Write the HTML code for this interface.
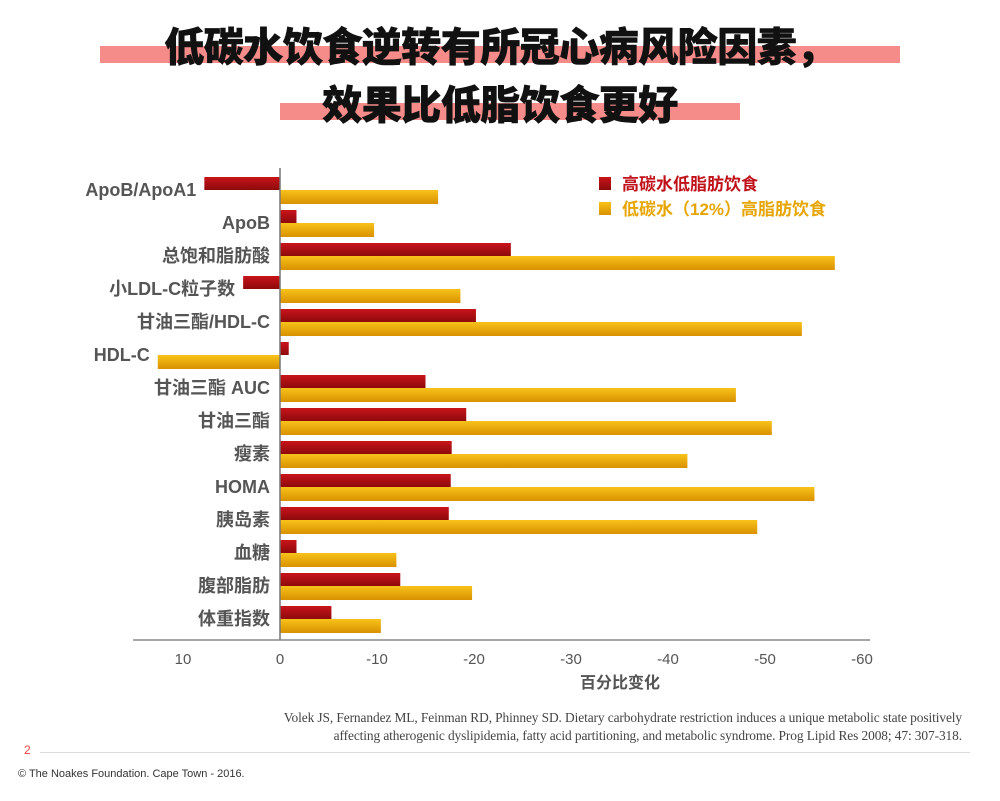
<!DOCTYPE html>
<html><head><meta charset="utf-8"><style>
body{margin:0;width:1000px;height:801px;background:#fff;overflow:hidden;position:relative;font-family:"Liberation Sans","Noto Sans CJK SC",sans-serif}
.hl{position:absolute;background:#f58c8a}
.t{position:absolute;left:0;width:1000px;text-align:center;font-weight:900;font-size:40px;color:#111;font-family:"Liberation Sans","Noto Sans CJK SC",sans-serif;letter-spacing:-0.5px;-webkit-text-stroke:0.6px #111}
</style></head><body>
<div class="hl" style="left:100px;top:46px;width:800px;height:17px"></div>
<div class="hl" style="left:280px;top:103px;width:460px;height:17px"></div>
<div class="t" style="top:15px">低碳水饮食逆转有所冠心病风险因素，</div>
<div class="t" style="top:73px">效果比低脂饮食更好</div>
<svg id="chart" width="1000" height="801" style="position:absolute;left:0;top:0"></svg>
<div style="position:absolute;left:100px;top:709px;width:862px;font-family:'Liberation Serif',serif;font-size:13.4px;color:#444;line-height:18px;text-align:right;letter-spacing:-0.1px">Volek JS, Fernandez ML, Feinman RD, Phinney SD. Dietary carbohydrate restriction induces a unique metabolic state positively<br>affecting atherogenic dyslipidemia, fatty acid partitioning, and metabolic syndrome. Prog Lipid Res 2008; 47: 307-318.</div>
<div style="position:absolute;left:24px;top:743px;font-size:12px;color:#e44">2</div>
<div style="position:absolute;left:40px;top:752px;width:930px;height:1px;background:#ddd"></div>
<div style="position:absolute;left:18px;top:768px;font-size:11px;color:#333">© The Noakes Foundation. Cape Town - 2016.</div>
<script>
const categories=["ApoB/ApoA1","ApoB","总饱和脂肪酸","小LDL-C粒子数","甘油三酯/HDL-C","HDL-C","甘油三酯 AUC","甘油三酯","瘦素","HOMA","胰岛素","血糖","腹部脂肪","体重指数"];
const lowFat=[7.8,-1.7,-23.8,3.8,-20.2,-0.9,-15,-19.2,-17.7,-17.6,-17.4,-1.7,-12.4,-5.3];
const lowCarb=[-16.3,-9.7,-57.2,-18.6,-53.8,12.6,-47,-50.7,-42,-55.1,-49.2,-12,-19.8,-10.4];
const ticks=[10,0,-10,-20,-30,-40,-50,-60];
const svg=document.getElementById('chart');
const NS='http://www.w3.org/2000/svg';
const x=v=>280-v*9.7;
const rowY=i=>177+i*33;
function mk(tag,attrs){const e=document.createElementNS(NS,tag);for(const k in attrs)e.setAttribute(k,attrs[k]);svg.appendChild(e);return e;}
const defs=mk('defs',{});
defs.innerHTML='<linearGradient id="gr" x1="0" y1="0" x2="0" y2="1"><stop offset="0" stop-color="#c8141a"/><stop offset="1" stop-color="#8e0a0c"/></linearGradient><linearGradient id="gy" x1="0" y1="0" x2="0" y2="1"><stop offset="0" stop-color="#f7c21a"/><stop offset="1" stop-color="#d99100"/></linearGradient>';
categories.forEach((c,i)=>{
 const y=rowY(i);
 let r=mk('rect',{x:Math.min(x(0),x(lowFat[i])),y:y,width:Math.abs(x(lowFat[i])-x(0)),height:13,fill:'url(#gr)'});
 
 
 let b=mk('rect',{x:Math.min(x(0),x(lowCarb[i])),y:y+13,width:Math.abs(x(lowCarb[i])-x(0)),height:14,fill:'url(#gy)'});
 
 
 const left=Math.min(x(0),x(lowFat[i]),x(lowCarb[i]));
 const lx=Math.min(270,left-8);
 let t=mk('text',{x:lx,y:y+19,'text-anchor':'end','font-size':18,'font-weight':'bold',fill:'#555','font-family':'"Liberation Sans","Noto Sans CJK SC",sans-serif'});
 t.textContent=c;
 
 
});
let z=mk('line',{x1:x(0),x2:x(0),y1:168,y2:640,stroke:'#777','stroke-width':1.5});


let ax=mk('line',{x1:133,x2:870,y1:640,y2:640,stroke:'#888','stroke-width':1.5});


ticks.forEach(v=>{
 let t=mk('text',{x:x(v),y:664,'text-anchor':'middle','font-size':15,fill:'#555'});
 t.textContent=v;
 
 
});
let xt=mk('text',{x:620,y:688,'text-anchor':'middle','font-size':16,'font-weight':'bold',fill:'#555'});
xt.textContent='百分比变化';


[['url(#gr)','高碳水低脂肪饮食','#c0121a',190],['url(#gy)','低碳水（12%）高脂肪饮食','#e6a500',215]].forEach((l,i)=>{
 let r=mk('rect',{x:599,y:l[3]-13,width:12,height:13,fill:l[0]});
 
 
 let t=mk('text',{x:622,y:l[3],'font-size':17,'font-weight':'bold',fill:l[2]});
 t.textContent=l[1];
 
 
});
</script>
</body></html>
